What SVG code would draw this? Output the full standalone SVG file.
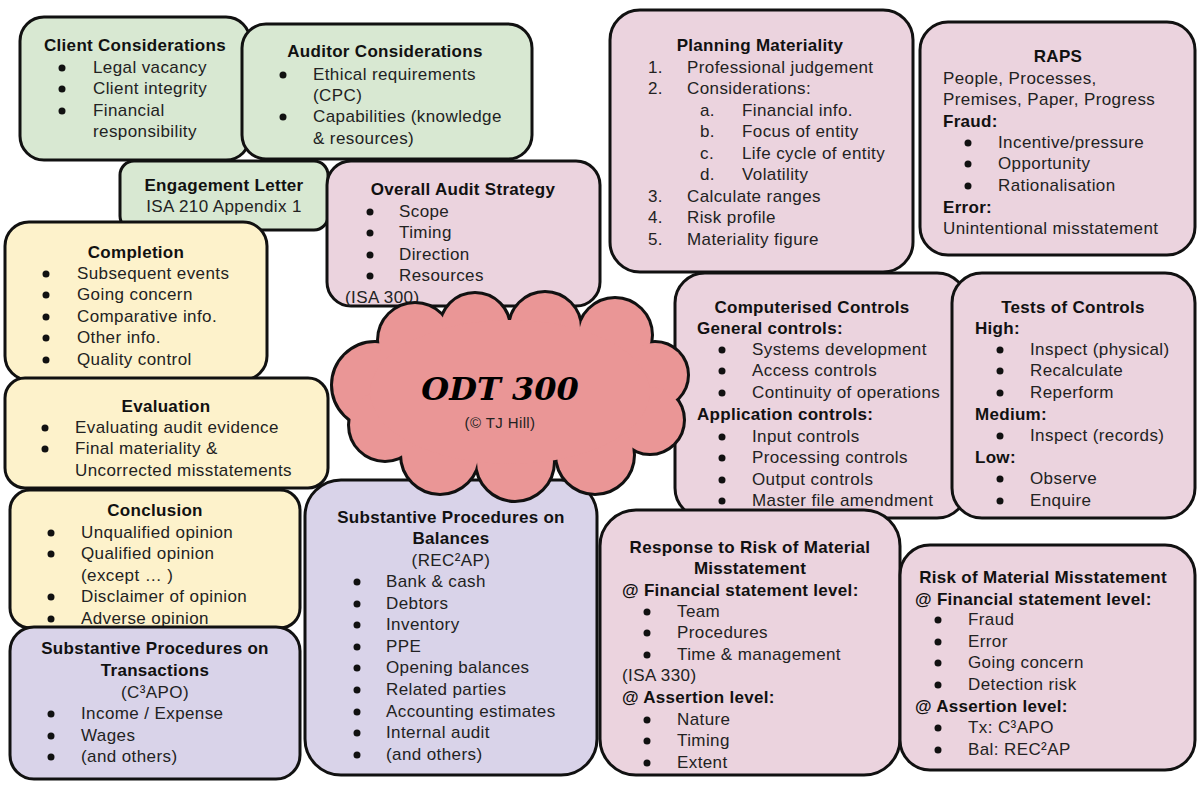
<svg xmlns="http://www.w3.org/2000/svg" width="1200" height="786" viewBox="0 0 1200 786">
<style>
text{font-family:"Liberation Sans",Arial,sans-serif;font-size:17px;letter-spacing:0.4px;fill:#222}
.h{font-weight:bold;fill:#111;letter-spacing:0.3px}
.c{text-anchor:middle}
.box{stroke:#111;stroke-width:3}
.g{fill:#d8e8d2}.p{fill:#ebd3de}.y{fill:#fdf2cb}.v{fill:#d9d3e9}
.b{fill:#111}
</style>
<rect width="1200" height="786" fill="#fff"/>
<g id="client"><rect class="box g" x="20" y="17" width="230" height="143" rx="24"/>
<text class="h c" x="135" y="51">Client Considerations</text>
<circle class="b" cx="62" cy="68" r="3.5"/><text x="93" y="73">Legal vacancy</text>
<circle class="b" cx="62" cy="89" r="3.5"/><text x="93" y="94">Client integrity</text>
<circle class="b" cx="62" cy="111" r="3.5"/><text x="93" y="116">Financial</text>
<text x="93" y="137">responsibility</text></g>
<g id="auditor"><rect class="box g" x="242" y="24" width="290" height="135" rx="24"/>
<text class="h c" x="385" y="57">Auditor Considerations</text>
<circle class="b" cx="283" cy="75" r="3.5"/><text x="313" y="80">Ethical requirements</text>
<text x="313" y="101">(CPC)</text>
<circle class="b" cx="283" cy="117" r="3.5"/><text x="313" y="122">Capabilities (knowledge</text>
<text x="313" y="144">&amp; resources)</text></g>
<g id="engagement"><rect class="box g" x="120" y="161" width="208" height="69" rx="14"/>
<text class="h c" x="224" y="191">Engagement Letter</text>
<text class="c" x="224" y="212">ISA 210 Appendix 1</text></g>
<g id="strategy"><rect class="box p" x="327" y="161" width="273" height="145" rx="24"/>
<text class="h c" x="463" y="195">Overall Audit Strategy</text>
<circle class="b" cx="370" cy="212" r="3.5"/><text x="399" y="217">Scope</text>
<circle class="b" cx="370" cy="233" r="3.5"/><text x="399" y="238">Timing</text>
<circle class="b" cx="370" cy="255" r="3.5"/><text x="399" y="260">Direction</text>
<circle class="b" cx="370" cy="276" r="3.5"/><text x="399" y="281">Resources</text>
<text x="345" y="303">(ISA 300)</text></g>
<g id="planning"><rect class="box p" x="610" y="10" width="303" height="262" rx="30"/>
<text class="h c" x="760" y="51">Planning Materiality</text>
<text x="648" y="73">1.</text><text x="687" y="73">Professional judgement</text>
<text x="648" y="94">2.</text><text x="687" y="94">Considerations:</text>
<text x="700" y="116">a.</text><text x="742" y="116">Financial info.</text>
<text x="700" y="137">b.</text><text x="742" y="137">Focus of entity</text>
<text x="700" y="159">c.</text><text x="742" y="159">Life cycle of entity</text>
<text x="700" y="180">d.</text><text x="742" y="180">Volatility</text>
<text x="648" y="202">3.</text><text x="687" y="202">Calculate ranges</text>
<text x="648" y="223">4.</text><text x="687" y="223">Risk profile</text>
<text x="648" y="245">5.</text><text x="687" y="245">Materiality figure</text></g>
<g id="raps"><rect class="box p" x="920" y="22" width="275" height="233" rx="28"/>
<text class="h c" x="1058" y="62">RAPS</text>
<text x="943" y="84">People, Processes,</text>
<text x="943" y="105">Premises, Paper, Progress</text>
<text class="h" x="943" y="127">Fraud:</text>
<circle class="b" cx="968" cy="143" r="3.5"/><text x="998" y="148">Incentive/pressure</text>
<circle class="b" cx="968" cy="164" r="3.5"/><text x="998" y="169">Opportunity</text>
<circle class="b" cx="968" cy="186" r="3.5"/><text x="998" y="191">Rationalisation</text>
<text class="h" x="943" y="213">Error:</text>
<text x="943" y="234">Unintentional misstatement</text></g>
<g id="completion"><rect class="box y" x="5" y="222" width="262" height="158" rx="24"/>
<text class="h c" x="136" y="258">Completion</text>
<circle class="b" cx="46" cy="274" r="3.5"/><text x="77" y="279">Subsequent events</text>
<circle class="b" cx="46" cy="295" r="3.5"/><text x="77" y="300">Going concern</text>
<circle class="b" cx="46" cy="317" r="3.5"/><text x="77" y="322">Comparative info.</text>
<circle class="b" cx="46" cy="338" r="3.5"/><text x="77" y="343">Other info.</text>
<circle class="b" cx="46" cy="360" r="3.5"/><text x="77" y="365">Quality control</text></g>
<g id="evaluation"><rect class="box y" x="5" y="378" width="323" height="110" rx="20"/>
<text class="h c" x="166" y="412">Evaluation</text>
<circle class="b" cx="45" cy="428" r="3.5"/><text x="75" y="433">Evaluating audit evidence</text>
<circle class="b" cx="45" cy="449" r="3.5"/><text x="75" y="454">Final materiality &amp;</text>
<text x="75" y="476">Uncorrected misstatements</text></g>
<g id="conclusion"><rect class="box y" x="10" y="490" width="290" height="138" rx="20"/>
<text class="h c" x="155" y="516">Conclusion</text>
<circle class="b" cx="51" cy="533" r="3.5"/><text x="81" y="538">Unqualified opinion</text>
<circle class="b" cx="51" cy="554" r="3.5"/><text x="81" y="559">Qualified opinion</text>
<text x="81" y="581">(except … )</text>
<circle class="b" cx="51" cy="597" r="3.5"/><text x="81" y="602">Disclaimer of opinion</text>
<circle class="b" cx="51" cy="619" r="3.5"/><text x="81" y="624">Adverse opinion</text></g>
<g id="subtrans"><rect class="box v" x="10" y="627" width="290" height="152" rx="24"/>
<text class="h c" x="155" y="654">Substantive Procedures on</text>
<text class="h c" x="155" y="676">Transactions</text>
<text class="c" x="155" y="698">(C³APO)</text>
<circle class="b" cx="51" cy="714" r="3.5"/><text x="81" y="719">Income / Expense</text>
<circle class="b" cx="51" cy="736" r="3.5"/><text x="81" y="741">Wages</text>
<circle class="b" cx="51" cy="757" r="3.5"/><text x="81" y="762">(and others)</text></g>
<g id="subbal"><rect class="box v" x="305" y="480" width="292" height="295" rx="36"/>
<text class="h c" x="451" y="523">Substantive Procedures on</text>
<text class="h c" x="451" y="544">Balances</text>
<text class="c" x="451" y="566">(REC²AP)</text>
<circle class="b" cx="357" cy="582" r="3.5"/><text x="386" y="587">Bank &amp; cash</text>
<circle class="b" cx="357" cy="604" r="3.5"/><text x="386" y="609">Debtors</text>
<circle class="b" cx="357" cy="625" r="3.5"/><text x="386" y="630">Inventory</text>
<circle class="b" cx="357" cy="647" r="3.5"/><text x="386" y="652">PPE</text>
<circle class="b" cx="357" cy="668" r="3.5"/><text x="386" y="673">Opening balances</text>
<circle class="b" cx="357" cy="690" r="3.5"/><text x="386" y="695">Related parties</text>
<circle class="b" cx="357" cy="712" r="3.5"/><text x="386" y="717">Accounting estimates</text>
<circle class="b" cx="357" cy="733" r="3.5"/><text x="386" y="738">Internal audit</text>
<circle class="b" cx="357" cy="755" r="3.5"/><text x="386" y="760">(and others)</text></g>
<g id="computerised"><rect class="box p" x="675" y="273" width="292" height="245" rx="30"/>
<text class="h c" x="812" y="313">Computerised Controls</text>
<text class="h" x="697" y="334">General controls:</text>
<circle class="b" cx="722" cy="350" r="3.5"/><text x="752" y="355">Systems development</text>
<circle class="b" cx="722" cy="371" r="3.5"/><text x="752" y="376">Access controls</text>
<circle class="b" cx="722" cy="393" r="3.5"/><text x="752" y="398">Continuity of operations</text>
<text class="h" x="697" y="420">Application controls:</text>
<circle class="b" cx="722" cy="437" r="3.5"/><text x="752" y="442">Input controls</text>
<circle class="b" cx="722" cy="458" r="3.5"/><text x="752" y="463">Processing controls</text>
<circle class="b" cx="722" cy="480" r="3.5"/><text x="752" y="485">Output controls</text>
<circle class="b" cx="722" cy="501" r="3.5"/><text x="752" y="506">Master file amendment</text></g>
<g id="tests"><rect class="box p" x="952" y="273" width="243" height="245" rx="30"/>
<text class="h c" x="1073" y="313">Tests of Controls</text>
<text class="h" x="975" y="334">High:</text>
<circle class="b" cx="1000" cy="350" r="3.5"/><text x="1030" y="355">Inspect (physical)</text>
<circle class="b" cx="1000" cy="371" r="3.5"/><text x="1030" y="376">Recalculate</text>
<circle class="b" cx="1000" cy="393" r="3.5"/><text x="1030" y="398">Reperform</text>
<text class="h" x="975" y="420">Medium:</text>
<circle class="b" cx="1000" cy="436" r="3.5"/><text x="1030" y="441">Inspect (records)</text>
<text class="h" x="975" y="463">Low:</text>
<circle class="b" cx="1000" cy="479" r="3.5"/><text x="1030" y="484">Observe</text>
<circle class="b" cx="1000" cy="501" r="3.5"/><text x="1030" y="506">Enquire</text></g>
<g id="response"><rect class="box p" x="600" y="510" width="300" height="265" rx="36"/>
<text class="h c" x="750" y="553">Response to Risk of Material</text>
<text class="h c" x="750" y="574">Misstatement</text>
<text class="h" x="622" y="596">@ Financial statement level:</text>
<circle class="b" cx="647" cy="612" r="3.5"/><text x="677" y="617">Team</text>
<circle class="b" cx="647" cy="633" r="3.5"/><text x="677" y="638">Procedures</text>
<circle class="b" cx="647" cy="655" r="3.5"/><text x="677" y="660">Time &amp; management</text>
<text x="622" y="681">(ISA 330)</text>
<text class="h" x="622" y="703">@ Assertion level:</text>
<circle class="b" cx="647" cy="720" r="3.5"/><text x="677" y="725">Nature</text>
<circle class="b" cx="647" cy="741" r="3.5"/><text x="677" y="746">Timing</text>
<circle class="b" cx="647" cy="763" r="3.5"/><text x="677" y="768">Extent</text></g>
<g id="rmm"><rect class="box p" x="900" y="545" width="295" height="225" rx="30"/>
<text class="h c" x="1043" y="583">Risk of Material Misstatement</text>
<text class="h" x="915" y="605">@ Financial statement level:</text>
<circle class="b" cx="938" cy="620" r="3.5"/><text x="968" y="625">Fraud</text>
<circle class="b" cx="938" cy="642" r="3.5"/><text x="968" y="647">Error</text>
<circle class="b" cx="938" cy="663" r="3.5"/><text x="968" y="668">Going concern</text>
<circle class="b" cx="938" cy="685" r="3.5"/><text x="968" y="690">Detection risk</text>
<text class="h" x="915" y="712">@ Assertion level:</text>
<circle class="b" cx="938" cy="728" r="3.5"/><text x="968" y="733">Tx: C³APO</text>
<circle class="b" cx="938" cy="750" r="3.5"/><text x="968" y="755">Bal: REC²AP</text></g>
<g id="cloud">
<defs><g id="cl">
<circle cx="375" cy="385" r="42"/><circle cx="415" cy="340" r="36"/><circle cx="475" cy="328" r="34"/>
<circle cx="545" cy="328" r="35"/><circle cx="615" cy="335" r="36"/><circle cx="655" cy="375" r="32"/>
<circle cx="650" cy="420" r="33"/><circle cx="595" cy="455" r="38"/><circle cx="515" cy="462" r="38"/>
<circle cx="440" cy="455" r="38"/><circle cx="385" cy="425" r="35"/><ellipse cx="510" cy="392" rx="140" ry="72"/></g></defs>
<use href="#cl" fill="#111" stroke="#111" stroke-width="6"/>
<use href="#cl" fill="#ea9696"/>
<text class="c" x="500" y="400" style="font-family:'DejaVu Serif',serif;font-size:32px;font-weight:bold;font-style:italic;fill:#000;letter-spacing:0">ODT 300</text>
<text class="c" x="500" y="428" style="font-size:15px">(© TJ Hill)</text></g>
<g id="connectors"/>
</svg>
